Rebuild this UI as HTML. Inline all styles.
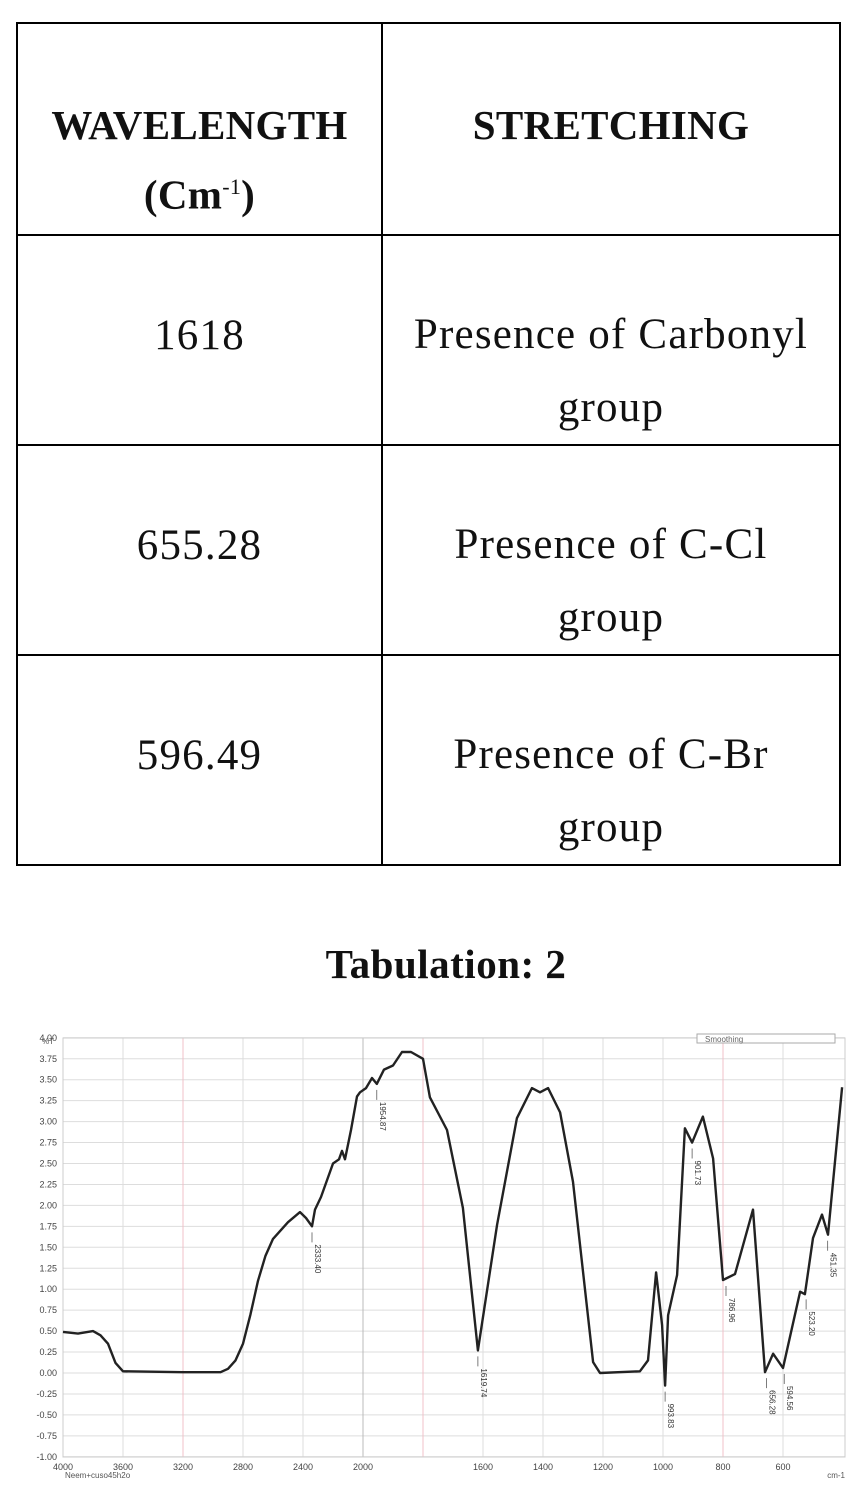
<!DOCTYPE html>
<html><head><meta charset="utf-8">
<style>
html,body{margin:0;padding:0;background:#fff;width:857px;height:1488px;overflow:hidden;font-family:"Liberation Serif",serif;position:relative;}
.ln{position:absolute;background:#000;}
.t{position:absolute;text-align:center;color:#111;white-space:nowrap;height:60px;line-height:60px;}
.h{font-weight:bold;font-size:41px;letter-spacing:0.3px;}
.b{font-size:43px;letter-spacing:1.2px;}
#title{position:absolute;left:0;width:892px;top:940px;text-align:center;font-weight:bold;font-size:41px;letter-spacing:0.5px;color:#111;}
svg{position:absolute;left:0;top:1025px;}
</style></head><body>
<div>
<div class="ln" style="left:17px;top:22px;width:824px;height:2px"></div>
<div class="ln" style="left:17px;top:234px;width:824px;height:2px"></div>
<div class="ln" style="left:17px;top:444px;width:824px;height:2px"></div>
<div class="ln" style="left:17px;top:654px;width:824px;height:2px"></div>
<div class="ln" style="left:17px;top:864px;width:824px;height:2px"></div>
<div class="ln" style="left:16px;top:22px;width:2px;height:844px"></div>
<div class="ln" style="left:381px;top:22px;width:2px;height:844px"></div>
<div class="ln" style="left:839px;top:22px;width:2px;height:844px"></div>
<div class="t h" style="left:18px;width:363px;top:95px">WAVELENGTH</div>
<div class="t h" style="left:18px;width:363px;top:157px">(Cm<sup style="font-size:22px;font-weight:normal">-1</sup>)</div>
<div class="t h" style="left:383px;width:456px;top:95px">STRETCHING</div>
<div class="t b" style="left:18px;width:363px;top:306px">1618</div>
<div class="t b" style="left:383px;width:456px;top:305px">Presence of Carbonyl</div>
<div class="t b" style="left:383px;width:456px;top:378px">group</div>
<div class="t b" style="left:18px;width:363px;top:516px">655.28</div>
<div class="t b" style="left:383px;width:456px;top:515px">Presence of C-Cl</div>
<div class="t b" style="left:383px;width:456px;top:588px">group</div>
<div class="t b" style="left:18px;width:363px;top:726px">596.49</div>
<div class="t b" style="left:383px;width:456px;top:725px">Presence of C-Br</div>
<div class="t b" style="left:383px;width:456px;top:798px">group</div>
</div>
<div id="title">Tabulation: 2</div>
<svg id="chart" width="857" height="463"></svg>
<script>
const wavenumbers=[4000,3900,3800,3750,3700,3650,3600,3200,2950,2900,2850,2800,2750,2700,2650,2600,2500,2420,2380,2340,2320,2280,2200,2160,2140,2120,2080,2040,2020,1990,1970,1954,1930,1900,1870,1840,1800,1777,1720,1667,1617,1553,1487,1437,1410,1383,1343,1300,1233,1210,1077,1050,1023,1003,993,983,953,927,903,867,833,800,760,700,660,633,600,543,527,500,470,450,403];
const transmittance=[0.49,0.47,0.5,0.45,0.35,0.12,0.02,0.01,0.01,0.05,0.15,0.35,0.7,1.1,1.4,1.6,1.8,1.92,1.85,1.75,1.95,2.1,2.5,2.55,2.65,2.55,2.9,3.3,3.35,3.4,3.52,3.45,3.62,3.67,3.83,3.83,3.75,3.29,2.9,1.97,0.27,1.77,3.04,3.4,3.35,3.4,3.11,2.28,0.13,0.0,0.02,0.15,1.2,0.57,-0.15,0.69,1.17,2.92,2.75,3.06,2.56,1.11,1.18,1.95,0.01,0.23,0.06,0.97,0.94,1.61,1.89,1.65,3.41];
const peakLabels=["2333.40","1954.87","1619.74","993.83","901.73","786.96","656.28","594.56","523.20","451.35"];
const peakPositions=[2340,1954,1617,993,903,790,655,596,523,451];
const peakValues=[1.75,3.45,0.27,-0.15,2.75,1.11,0.01,0.06,0.95,1.65];
const yTicks=[4,3.75,3.5,3.25,3,2.75,2.5,2.25,2,1.75,1.5,1.25,1,0.75,0.5,0.25,0,-0.25,-0.5,-0.75,-1];
const xTicks=[4000,3600,3200,2800,2400,2000,1800,1600,1400,1200,1000,800,600];
const NS="http://www.w3.org/2000/svg";
const svg=document.getElementById('chart');
const X0=63,X1=845,YT=13,YB=432;
function xs(w){return w>=2000?363-(w-2000)*0.15:363+(2000-w)*0.3;}
function ys(v){return 348-v*83.8;}
function mk(t,a){const e=document.createElementNS(NS,t);for(const k in a)e.setAttribute(k,a[k]);svg.appendChild(e);return e;}
yTicks.forEach(v=>{
  const l=mk('line',{x1:X0,x2:X1,y1:ys(v),y2:ys(v),stroke:'#ddd','stroke-width':1});
  
  
  const t=mk('text',{x:X0-6,y:ys(v)+3,'text-anchor':'end','font-size':9,fill:'#444','font-family':'Liberation Sans, sans-serif'});
  t.textContent=v.toFixed(2);
  
  
});
xTicks.forEach(w=>{
  const pink=(w===3200||w===1800||w===800);
  const l=mk('line',{x1:xs(w),x2:xs(w),y1:YT,y2:YB,stroke:pink?'#f0c0c8':(w===2000?'#bbb':'#ddd'),'stroke-width':1});
  
  
  if(w!==1800){
    const t=mk('text',{x:xs(w),y:YB+13,'text-anchor':'middle','font-size':9,fill:'#444','font-family':'Liberation Sans, sans-serif'});
    t.textContent=w;
    
    
  }
});
const f=mk('rect',{x:X0,y:YT,width:X1-X0,height:YB-YT,fill:'none',stroke:'#ccc'});


const yl=mk('text',{x:42,y:YT+6,'font-size':8,fill:'#555','font-family':'Liberation Sans, sans-serif'});yl.textContent='%T';


const xl=mk('text',{x:X1,y:YB+21,'text-anchor':'end','font-size':8,fill:'#555','font-family':'Liberation Sans, sans-serif'});xl.textContent='cm-1';


const sn=mk('text',{x:65,y:YB+21,'font-size':8,fill:'#555','font-family':'Liberation Sans, sans-serif'});sn.textContent='Neem+cuso45h2o';


const lg=mk('rect',{x:697,y:9,width:138,height:9,fill:'#fff',stroke:'#aaa'});


const lt=mk('text',{x:705,y:17,'font-size':8,fill:'#666','font-family':'Liberation Sans, sans-serif'});lt.textContent='Smoothing';


let d='';wavenumbers.forEach((w,i)=>{d+=(i?'L':'M')+xs(w).toFixed(1)+','+ys(transmittance[i]).toFixed(1);});
const p=mk('path',{d:d,fill:'none',stroke:'#222','stroke-width':2.4,'stroke-linejoin':'round'});


peakLabels.forEach((lab,i)=>{
  const x=xs(peakPositions[i]),y=ys(peakValues[i])+6;
  const l=mk('line',{x1:x,x2:x,y1:y,y2:y+10,stroke:'#444','stroke-width':0.7});
  
  
  const t=mk('text',{x:0,y:0,'font-size':8,fill:'#333','font-family':'Liberation Sans, sans-serif',transform:`translate(${x+3},${y+12}) rotate(90)`});
  t.textContent=lab;
  
  
});
</script>
</body></html>
